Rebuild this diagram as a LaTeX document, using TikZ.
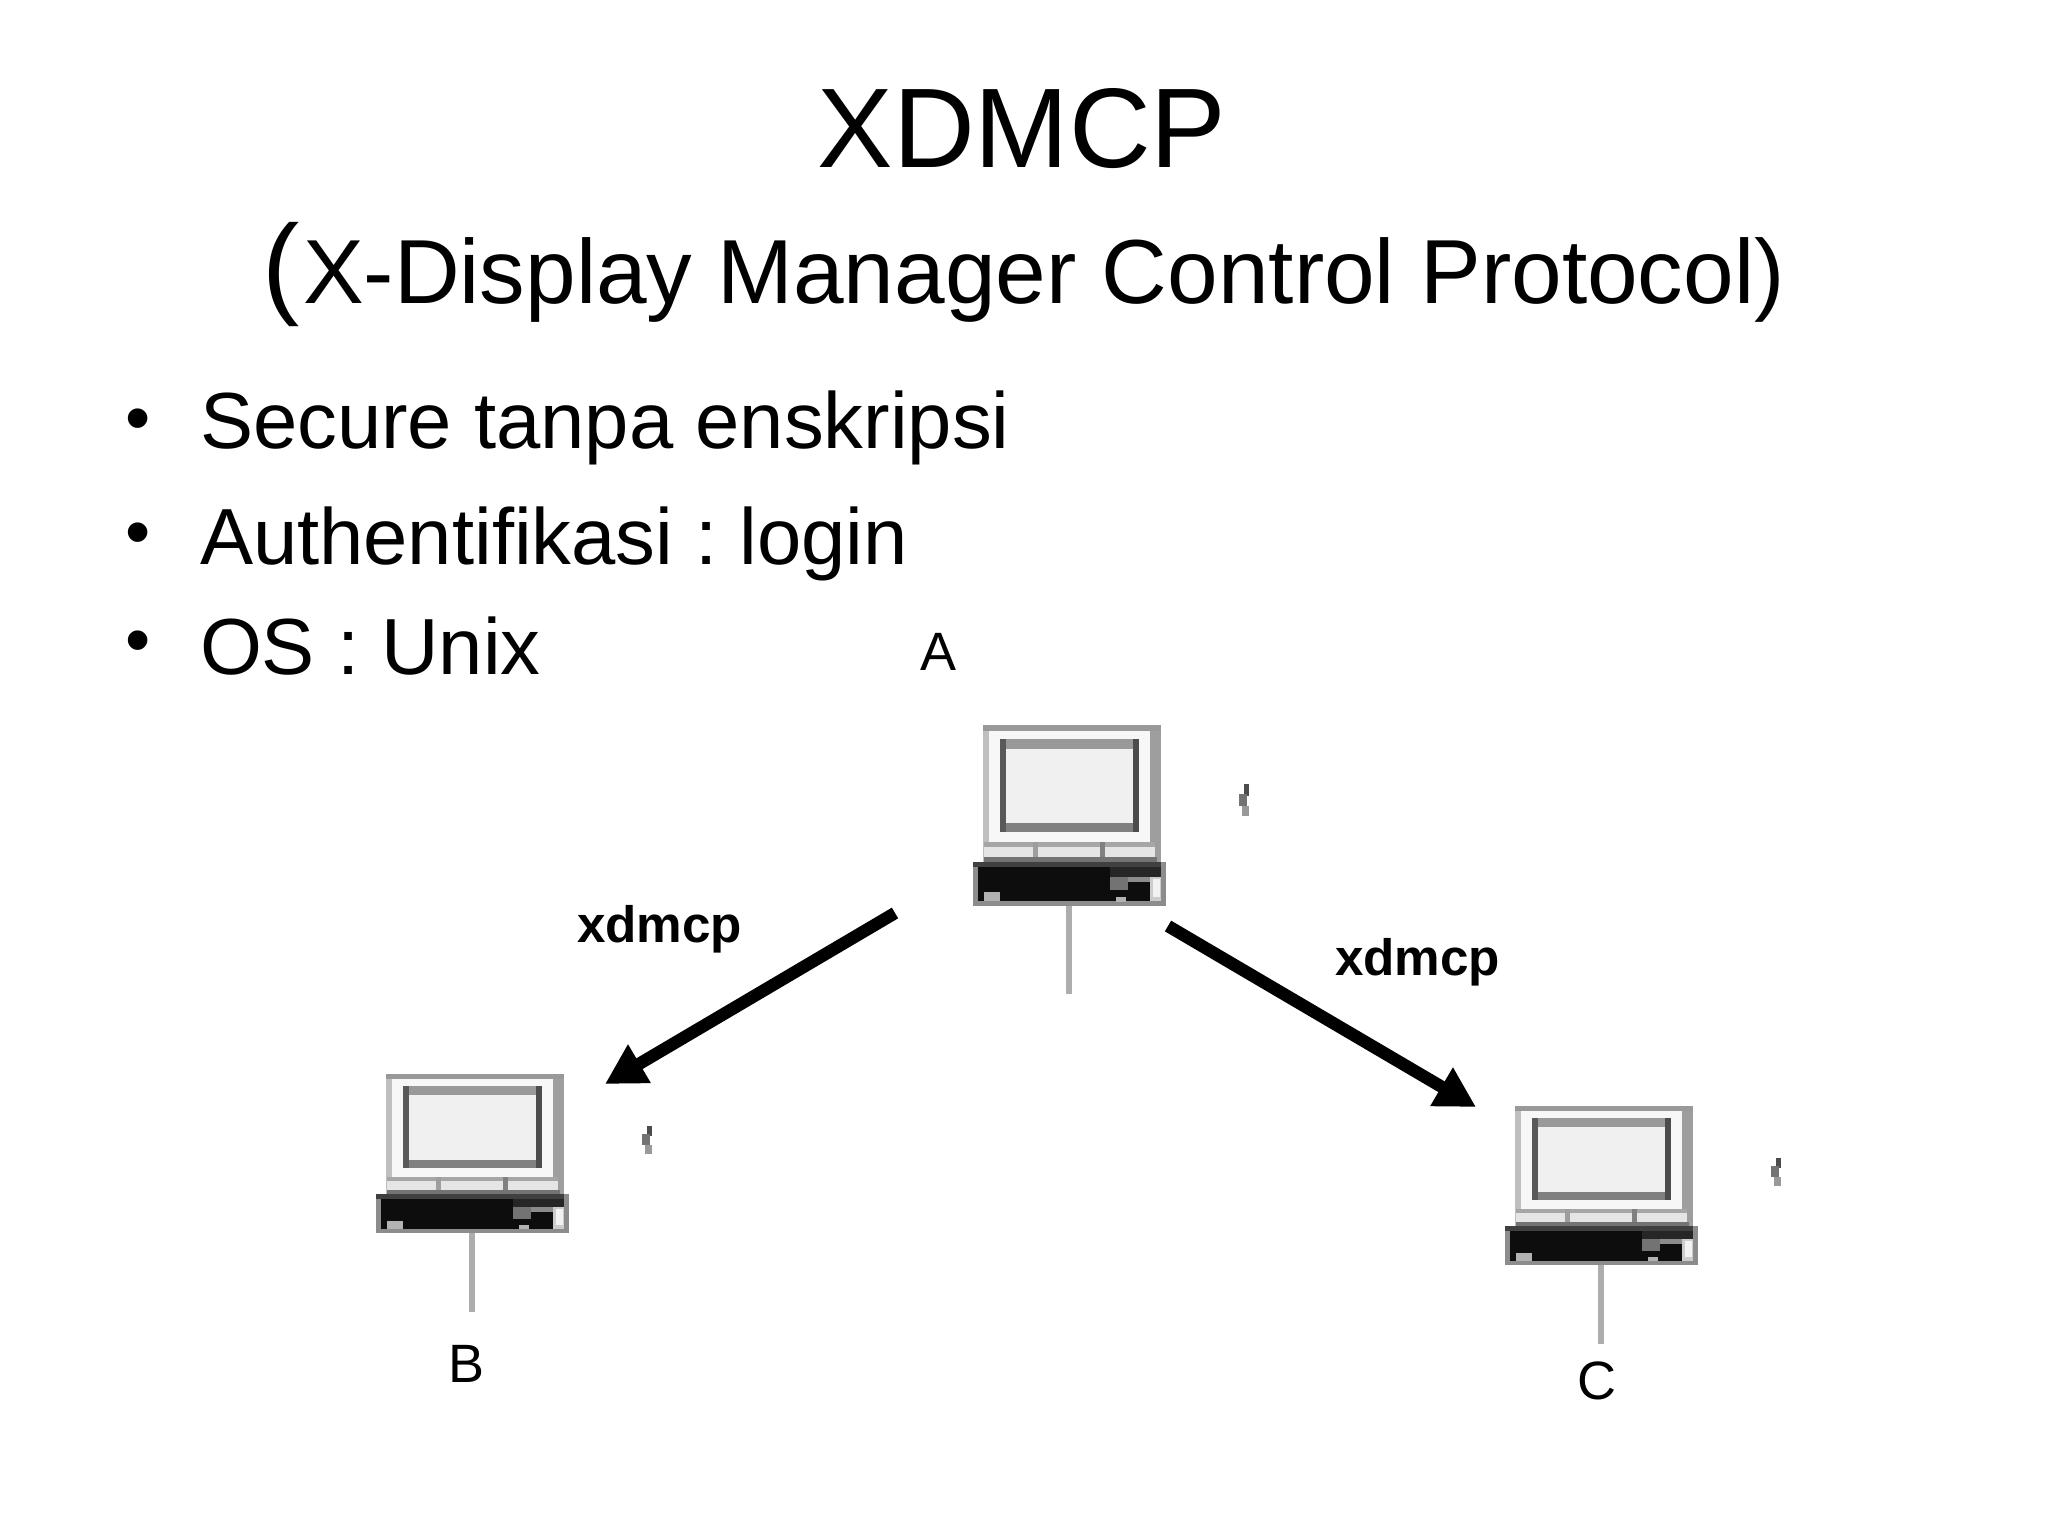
\documentclass[tikz,border=0pt]{standalone}
\usepackage{fontspec}
\setmainfont{Liberation Sans}
\usetikzlibrary{arrows.meta}
\definecolor{stemg}{gray}{0.68}
\tikzset{
  x=0.5pt,y=-0.5pt,
  txt/.style={inner sep=0pt,outer sep=0pt,anchor=base west,text=black},
  fatarrow/.style={line width=6.2pt,black,-{Triangle[length=20pt,width=21pt]}},
  stemline/.style={line width=3pt,stemg},
  gfill/.style={fill={rgb,1:red,#1;green,#1;blue,#1}},
  pics/computer/.style={code={
    % origin = bottom of keyboard at the stem
    \path[gfill=0.97] (-86,-181) rectangle (92,-44);
    \path[gfill=0.6] (-86,-181) rectangle (92,-175);
    \path[gfill=0.75] (-86,-175) rectangle (-80,-44);
    \path[gfill=0.62] (81,-175) rectangle (92,-44);
    \path[gfill=0.6] (-69,-167) rectangle (70,-157);
    \path[gfill=0.5] (-69,-83) rectangle (70,-74);
    \path[gfill=0.35] (-69,-167) rectangle (-63,-74);
    \path[gfill=0.3] (64,-167) rectangle (70,-74);
    \path[gfill=0.94] (-63,-157) rectangle (64,-83);
    \path[gfill=0.65] (-85,-64) rectangle (86,-59);
    \path[gfill=0.9] (-85,-59) rectangle (86,-49);
    \path[gfill=0.62] (-36,-64) rectangle (-31,-44);
    \path[gfill=0.5] (31,-64) rectangle (36,-44);
    \path[gfill=0.45] (-85,-49) rectangle (88,-44);
    \path[gfill=0.55] (-96,-44) rectangle (97,0);
    \path[gfill=0.25] (-96,-44) rectangle (92,-39);
    \path[gfill=0.05] (-91,-39) rectangle (41,-5);
    \path[gfill=0.15] (41,-39) rectangle (92,-29);
    \path[gfill=0.45] (41,-29) rectangle (59,-16);
    \path[gfill=0.05] (41,-16) rectangle (59,-5);
    \path[gfill=0.05] (59,-24) rectangle (81,-5);
    \path[gfill=0.8] (81,-29) rectangle (92,-5);
    \path[gfill=0.95] (84,-27) rectangle (91,-9);
    \path[gfill=0.7] (-85,-14) rectangle (-69,-5);
    \path[gfill=0.7] (47,-9) rectangle (57,-4);
    \path[gfill=0.3] (175,-122) rectangle (180,-110);
    \path[gfill=0.45] (170,-112) rectangle (178,-100);
    \path[gfill=0.6] (173,-100) rectangle (180,-90);
  }}
}
\begin{document}
\begin{tikzpicture}
\frenchspacing
\useasboundingbox (0,0) rectangle (2048,1536);
\fill[white] (0,0) rectangle (2048,1536);

\node[txt,anchor=base,font=\fontsize{56.6pt}{60pt}\selectfont] (title) at (1022,167) {XDMCP};
\node[txt,font=\fontsize{56pt}{60pt}\selectfont] (paren) at (262,303) {(};
\node[txt,font=\fontsize{45.5pt}{50pt}\selectfont] (subtitle) at (303,303) {X-Display Manager Control Protocol)};

\node[txt,font=\fontsize{36pt}{40pt}\selectfont] (b1) at (125,442) {•};
\node[txt,font=\fontsize{39.8pt}{44pt}\selectfont] (t1) at (200,448) {Secure tanpa enskripsi};
\node[txt,font=\fontsize{36pt}{40pt}\selectfont] (b2) at (125,556) {•};
\node[txt,font=\fontsize{39.8pt}{44pt}\selectfont] (t2) at (200,564) {Authentifikasi : login};
\node[txt,font=\fontsize{36pt}{40pt}\selectfont] (b3) at (125,664) {•};
\node[txt,font=\fontsize{39.8pt}{44pt}\selectfont] (t3) at (200,674) {OS : Unix};

\pic (pa) at (1069,906) {computer};
\pic[yscale=0.88] (pb) at (472,1233) {computer};
\pic[yscale=0.88] (pc) at (1601,1265) {computer};

\coordinate (astemtop) at (1069,906);
\coordinate (astemend) at (1069,994);
\coordinate (bstemtop) at (472,1233);
\coordinate (bstemend) at (472,1312);
\coordinate (cstemtop) at (1601,1265);
\coordinate (cstemend) at (1601,1344);
\draw[stemline] (astemtop) -- (astemend);
\draw[stemline] (bstemtop) -- (bstemend);
\draw[stemline] (cstemtop) -- (cstemend);

\node[txt,anchor=base,font=\fontsize{27pt}{30pt}\selectfont] (la) at (938,670) {A};
\node[txt,anchor=base,font=\fontsize{27pt}{30pt}\selectfont] (lb) at (467,1382) {B};
\node[txt,anchor=base,font=\fontsize{27pt}{30pt}\selectfont] (lc) at (1597,1399) {C};

\node[txt,font=\bfseries\fontsize{25.6pt}{28pt}\selectfont] (x1) at (577,942) {xdmcp};
\node[txt,font=\bfseries\fontsize{25.6pt}{28pt}\selectfont] (x2) at (1335,975) {xdmcp};

\coordinate (a1s) at (895,913);
\coordinate (a1e) at (605,1084);
\coordinate (a2s) at (1168,926);
\coordinate (a2e) at (1476,1107);
\draw[fatarrow] (a1s) -- (a1e);
\draw[fatarrow] (a2s) -- (a2e);
\end{tikzpicture}
\end{document}
